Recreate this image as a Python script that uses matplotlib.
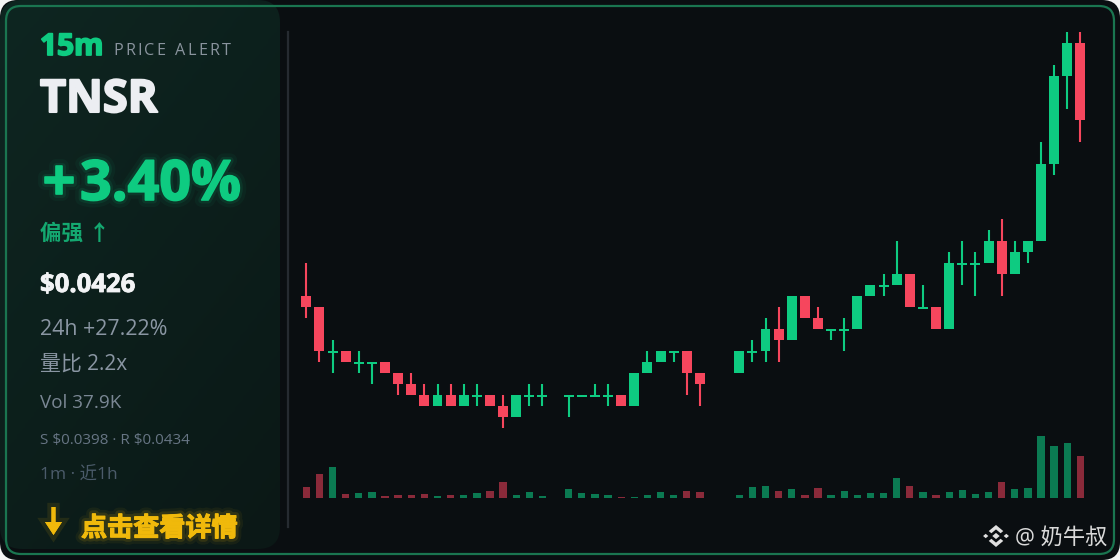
import numpy as np
import matplotlib
matplotlib.use('Agg')
import matplotlib.pyplot as plt
from matplotlib.patches import FancyBboxPatch, Polygon
import matplotlib.patheffects as pe

plt.rcParams['font.family'] = ['Open Sans', 'Noto Sans CJK SC', 'DejaVu Sans']

nan = np.nan

# 1m candles, last hour (nan = no candle)
opens = [0.0410, 0.0409, 0.0405, 0.0405, 0.0404, 0.0404, 0.0404, 0.0403, 0.0402, 0.0401,
         0.0400, 0.0401, 0.0400, 0.0401, 0.0401, 0.0400, 0.0399, 0.0401, 0.0401, nan,
         0.0401, 0.0401, 0.0401, 0.0401, 0.0401, 0.0400, 0.0403, 0.0404, 0.0405, 0.0405,
         0.0403, nan, nan, 0.0403, 0.0405, 0.0405, 0.0407, 0.0406, 0.0410, 0.0408,
         0.0407, 0.0407, 0.0407, 0.0410, 0.0411, 0.0411, 0.0412, 0.0409, 0.0409, 0.0407,
         0.0413, 0.0413, 0.0413, 0.0415, 0.0412, 0.0414, 0.0415, 0.0422, 0.0430, 0.0433]
highs = [0.0413, 0.0409, 0.0406, 0.0405, 0.0405, 0.0404, 0.0404, 0.0403, 0.0403, 0.0402,
         0.0402, 0.0402, 0.0402, 0.0402, 0.0401, 0.0401, 0.0401, 0.0402, 0.0402, nan,
         0.0401, 0.0401, 0.0402, 0.0402, 0.0401, 0.0403, 0.0405, 0.0405, 0.0405, 0.0405,
         0.0403, nan, nan, 0.0405, 0.0406, 0.0408, 0.0409, 0.0410, 0.0410, 0.0409,
         0.0407, 0.0408, 0.0410, 0.0411, 0.0412, 0.0415, 0.0412, 0.0411, 0.0409, 0.0414,
         0.0415, 0.0414, 0.0416, 0.0417, 0.0415, 0.0415, 0.0424, 0.0431, 0.0434, 0.0434]
lows = [0.0408, 0.0404, 0.0403, 0.0404, 0.0403, 0.0402, 0.0403, 0.0401, 0.0401, 0.0400,
        0.0400, 0.0400, 0.0400, 0.0400, 0.0400, 0.0398, 0.0399, 0.0400, 0.0400, nan,
        0.0399, 0.0401, 0.0401, 0.0400, 0.0400, 0.0400, 0.0403, 0.0404, 0.0404, 0.0401,
        0.0400, nan, nan, 0.0403, 0.0404, 0.0404, 0.0404, 0.0406, 0.0408, 0.0407,
        0.0406, 0.0405, 0.0407, 0.0410, 0.0410, 0.0411, 0.0409, 0.0409, 0.0407, 0.0407,
        0.0411, 0.0410, 0.0413, 0.0410, 0.0412, 0.0413, 0.0415, 0.0421, 0.0427, 0.0424]
closes = [0.0409, 0.0405, 0.0405, 0.0404, 0.0404, 0.0404, 0.0403, 0.0402, 0.0401, 0.0400,
          0.0401, 0.0400, 0.0401, 0.0401, 0.0400, 0.0399, 0.0401, 0.0401, 0.0401, nan,
          0.0401, 0.0401, 0.0401, 0.0401, 0.0400, 0.0403, 0.0404, 0.0405, 0.0405, 0.0403,
          0.0402, nan, nan, 0.0405, 0.0405, 0.0407, 0.0406, 0.0410, 0.0408, 0.0407,
          0.0407, 0.0407, 0.0410, 0.0411, 0.0411, 0.0412, 0.0409, 0.0409, 0.0407, 0.0413,
          0.0413, 0.0413, 0.0415, 0.0412, 0.0414, 0.0415, 0.0422, 0.0430, 0.0433, 0.0426]
# volume, K
volumes = [1.31, 2.93, 3.79, 0.49, 0.57, 0.70, 0.24, 0.37, 0.37, 0.49,
           0.21, 0.33, 0.33, 0.57, 0.89, 1.99, 0.40, 0.70, 0.28, nan,
           1.06, 0.61, 0.49, 0.37, 0.12, 0.12, 0.33, 0.73, 0.37, 0.86,
           0.73, nan, nan, 0.33, 1.38, 1.50, 0.86, 1.06, 0.33, 1.22,
           0.37, 0.82, 0.40, 0.61, 0.57, 2.41, 1.50, 0.77, 0.37, 0.70,
           0.94, 0.45, 0.73, 1.92, 1.06, 1.26, 7.58, 6.39, 6.72, 5.10]

GREEN = '#0ecb81'
RED = '#f6465d'
VGREEN = '#0b7a52'
VRED = '#8a2a3a'
YELLOW = '#f0b90b'

fig = plt.figure(figsize=(11.2, 5.6), dpi=100, facecolor='#f4f4f4')

# background / card
bg = fig.add_axes([0, 0, 1, 1])
bg.set_xlim(0, 1120)
bg.set_ylim(560, 0)
bg.axis('off')

card = FancyBboxPatch((0, 0), 1120, 560, boxstyle='round,pad=0,rounding_size=18',
                      fc='#0a0e11', ec='none')
bg.add_patch(card)
panel = FancyBboxPatch((0, 0), 280, 549, boxstyle='round,pad=0,rounding_size=22',
                       fc='none', ec='none')
bg.add_patch(panel)
grad = np.linspace(0, 1, 200)[:, None] * 0.6 + np.linspace(0, 1, 100)[None, :] * 0.4
im = bg.imshow(grad, extent=[0, 280, 549, 0], cmap=matplotlib.colors.LinearSegmentedColormap.from_list(
    'p', ['#0e2621', '#0b1816']), aspect='auto', zorder=1)
im.set_clip_path(panel)
border = FancyBboxPatch((6, 6), 1108, 548, boxstyle='round,pad=0,rounding_size=15',
                        fc='none', ec='#1a7550', lw=1.6, zorder=3)
bg.add_patch(border)
bg.plot([288, 288], [32, 527], color='#262b31', lw=1.6, zorder=2)


def spaced(ax, x, y, s, gap, **kw):
    r = fig.canvas.get_renderer()
    ref = ax.text(0, 0, 'x', **kw)
    wx = ref.get_window_extent(r).width
    ref.remove()
    for i, ch in enumerate(s):
        if ch == ' ':
            continue
        w = 0
        if i:
            t = ax.text(0, 0, s[:i] + 'x', **kw)
            w = t.get_window_extent(r).width - wx
            t.remove()
        ax.text(x + w + i * gap, y, ch, **kw)


def heavy(col, lw=1.0):
    return [pe.withStroke(linewidth=lw, foreground=col)]


glow_g = [pe.withStroke(linewidth=10, foreground=GREEN, alpha=0.05),
          pe.withStroke(linewidth=5, foreground=GREEN, alpha=0.10),
          pe.withStroke(linewidth=1.2, foreground=GREEN)]
glow_y = [pe.withStroke(linewidth=9, foreground=YELLOW, alpha=0.06),
          pe.withStroke(linewidth=5, foreground=YELLOW, alpha=0.12),
          pe.withStroke(linewidth=0.8, foreground=YELLOW)]

bg.text(40, 55, '15m', color=GREEN, fontsize=21.5, fontweight='bold', va='baseline', zorder=4,
        path_effects=heavy(GREEN, 1.3))
spaced(bg, 113, 55, 'PRICE ALERT', 2.3, color='#8a949e', fontsize=11.6, va='baseline', zorder=4)
bg.text(40, 112, 'TNSR', color='#eceef2', fontsize=32.5, fontweight='bold', va='baseline', zorder=4,
        path_effects=heavy('#eceef2', 1.5))
bg.text(43, 200, '+', color=GREEN, fontsize=41, fontweight='bold', va='baseline',
        zorder=4, path_effects=glow_g)
bg.text(80, 200, '3.40%', color=GREEN, fontsize=40, fontweight='bold', va='baseline',
        zorder=4, path_effects=glow_g)
bg.text(40, 240, '偏强 ↑', color='#14a870', fontsize=15.5, fontweight='bold', va='baseline', zorder=4)
bg.text(40, 292, r'\$0.0426', color='#f2f3f5', fontsize=18.5, fontweight='bold', va='baseline', zorder=4,
        path_effects=heavy('#f2f3f5', 0.6))
bg.text(40, 335, '24h +27.22%', color='#8a96a3', fontsize=15.4, va='baseline', zorder=4)
bg.text(40, 371, '量比 2.2x', color='#8a96a3', fontsize=15, va='baseline', zorder=4)
bg.text(40, 408, 'Vol 37.9K', color='#7a8794', fontsize=13.6, va='baseline', zorder=4)
bg.text(40, 444, r'S \$0.0398 · R \$0.0434', color='#677584', fontsize=11, va='baseline', zorder=4)
bg.text(40, 480, '1m · 近1h', color='#4b5b6a', fontsize=12.5, va='baseline', zorder=4)

# down arrow
ax_pts = [(51.5, 507), (55.5, 507), (55.5, 522), (62, 522), (53.5, 535), (45, 522), (51.5, 522)]
bg.add_patch(Polygon(ax_pts, closed=True, fc=YELLOW, ec='none', zorder=4,
                     path_effects=[pe.withStroke(linewidth=6, foreground=YELLOW, alpha=0.1), pe.Normal()]))
bg.text(81, 536, '点击查看详情', color=YELLOW, fontsize=18.8, fontweight='bold', va='baseline',
        zorder=4, path_effects=glow_y)

# watermark logo + handle
cx, cy, s = 996, 536, 11
shapes = [
    [(0, -0.28), (0.28, 0), (0, 0.28), (-0.28, 0)],
    [(-0.78, -0.2), (-0.58, 0), (-0.78, 0.2), (-0.98, 0)],
    [(0.78, -0.2), (0.98, 0), (0.78, 0.2), (0.58, 0)],
    [(0, -1), (0.55, -0.45), (0.35, -0.25), (0, -0.6), (-0.35, -0.25), (-0.55, -0.45)],
    [(0, 1), (0.55, 0.45), (0.35, 0.25), (0, 0.6), (-0.35, 0.25), (-0.55, 0.45)],
]
for shp in shapes:
    bg.add_patch(Polygon([(cx + s * 1.2 * px, cy + s * py) for px, py in shp],
                         closed=True, fc='#e0e0e0', ec='none', zorder=4))
bg.text(1015, 544, '@ 奶牛叔', color='#dadada', fontsize=16, va='baseline', zorder=4)

# price axes (11 px per 0.0001, 0.0398 at y=428)
ax = fig.add_axes([290 / 1120, 1 - 440 / 560, 810 / 1120, 420 / 560])
ax.set_facecolor('none')
ax.axis('off')
x0 = -(306.3 - 290) / 13.12
ax.set_xlim(x0, x0 + 810 / 13.12)
ax.set_ylim(0.0398 - 12 / 110000, 0.0398 + 408 / 110000)

vax = fig.add_axes([290 / 1120, 1 - 498 / 560, 810 / 1120, 68 / 560])
vax.set_facecolor('none')
vax.axis('off')
vax.set_xlim(x0, x0 + 810 / 13.12)
vax.set_ylim(0, 8.31)

pxp = 1 / 110000
for i in range(len(opens)):
    o, h, l, c = opens[i], highs[i], lows[i], closes[i]
    if np.isnan(o):
        continue
    col = GREEN if c >= o else RED
    if h > l:
        ax.vlines(i, l, h, color=col, lw=1.5, zorder=2)
    if abs(c - o) < 1e-8:
        ax.bar(i, 2.2 * pxp, bottom=o - 2.2 * pxp, width=0.76, color=col, lw=0, zorder=3)
    else:
        ax.bar(i, abs(c - o), bottom=min(o, c), width=0.76, color=col, lw=0, zorder=3)
    vax.bar(i, volumes[i], width=0.56, color=VGREEN if c >= o else VRED, lw=0)

fig.savefig('out.png', dpi=100, facecolor=fig.get_facecolor())
